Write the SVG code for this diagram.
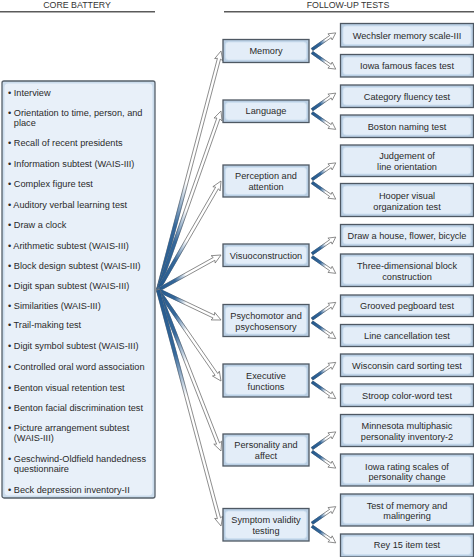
<svg xmlns="http://www.w3.org/2000/svg" xmlns:xlink="http://www.w3.org/1999/xlink" width="474" height="557" viewBox="0 0 474 557">
<style>
text{font-family:"Liberation Sans",Arial,sans-serif;font-size:9.2px;fill:#2a2a2a}
.c{text-anchor:middle}
.hd{font-size:8.8px;fill:#333;text-anchor:middle}
.rule{stroke:#5a5a5a;stroke-width:1.5}
.bo{fill:#b9cee3;stroke:#4e5863;stroke-width:1.3}
.bi{fill:#e3edf8;stroke:#cddff0;stroke-width:0.8}
.lo{fill:#cbdcec;stroke:#56606a;stroke-width:1.3}
.li{fill:#e8f0f9}
.ah{fill:#ffffff;stroke:#6b6b6b;stroke-width:0.7}
</style>
<defs>
<linearGradient id="fade" x1="0" y1="0" x2="1" y2="0">
<stop offset="0" stop-color="#23578a"/>
<stop offset="0.6" stop-color="#2c6094" stop-opacity="0.95"/>
<stop offset="1" stop-color="#2c6094" stop-opacity="0"/>
</linearGradient>
<g id="fork">
<g transform="translate(0,-1.5) rotate(-35)">
<path class="ah" d="M0,-1.3 H22.5 L22,-3.7 L29,0 L22,3.7 L22.5,1.3 H0 Z"/>
<rect x="0" y="-1.6" width="17" height="3.2" fill="url(#fade)"/>
</g>
<g transform="translate(0,1.5) rotate(35)">
<path class="ah" d="M0,-1.3 H22.5 L22,-3.7 L29,0 L22,3.7 L22.5,1.3 H0 Z"/>
<rect x="0" y="-1.6" width="17" height="3.2" fill="url(#fade)"/>
</g>
</g>
</defs>
<rect width="474" height="557" fill="#ffffff"/>

<g id="headers">
<text class="hd" x="77" y="7.5">CORE BATTERY</text>
<line class="rule" x1="0" y1="11.8" x2="155" y2="11.8"/>
<text class="hd" x="348" y="7.5">FOLLOW-UP TESTS</text>
<line class="rule" x1="224" y1="11.8" x2="474" y2="11.8"/>
</g>

<g id="core-battery">
<rect class="lo" x="2" y="81" width="153" height="417" rx="2"/>
<rect class="li" x="4.5" y="83.5" width="148" height="412" rx="4"/>
<text x="8" y="96.3">• Interview</text>
<text x="8" y="116.3">• Orientation to time, person, and</text>
<text x="13.8" y="126.3">place</text>
<text x="8" y="146.3">• Recall of recent presidents</text>
<text x="8" y="166.8">• Information subtest (WAIS-III)</text>
<text x="8" y="187.3">• Complex figure test</text>
<text x="8" y="207.8">• Auditory verbal learning test</text>
<text x="8" y="228.3">• Draw a clock</text>
<text x="8" y="248.8">• Arithmetic subtest (WAIS-III)</text>
<text x="8" y="268.8">• Block design subtest (WAIS-III)</text>
<text x="8" y="288.8">• Digit span subtest (WAIS-III)</text>
<text x="8" y="308.8">• Similarities (WAIS-III)</text>
<text x="8" y="328.3">• Trail-making test</text>
<text x="8" y="348.8">• Digit symbol subtest (WAIS-III)</text>
<text x="8" y="369.8">• Controlled oral word association</text>
<text x="8" y="390.8">• Benton visual retention test</text>
<text x="8" y="411.3">• Benton facial discrimination test</text>
<text x="8" y="431.3">• Picture arrangement subtest</text>
<text x="13.8" y="441.3">(WAIS-III)</text>
<text x="8" y="462.3">• Geschwind-Oldfield handedness</text>
<text x="13.8" y="472.3">questionnaire</text>
<text x="8" y="492.8">• Beck depression inventory-II</text>
</g>

<g id="connectors">
<g transform="translate(158,290) rotate(-75.23)"><path class="ah" d="M0,-1.6 H239.2 L238.2,-4.2 L247.2,0 L238.2,4.2 L239.2,1.6 H0 Z"/><rect x="0" y="-1.8" width="111" height="3.6" fill="url(#fade)"/></g>
<g transform="translate(158,290) rotate(-70.61)"><path class="ah" d="M0,-1.6 H181.8 L180.8,-4.2 L189.8,0 L180.8,4.2 L181.8,1.6 H0 Z"/><rect x="0" y="-1.8" width="85" height="3.6" fill="url(#fade)"/></g>
<g transform="translate(158,290) rotate(-59.97)"><path class="ah" d="M0,-1.6 H117.9 L116.9,-4.2 L125.9,0 L116.9,4.2 L117.9,1.6 H0 Z"/><rect x="0" y="-1.8" width="57" height="3.6" fill="url(#fade)"/></g>
<g transform="translate(158,290) rotate(-29.05)"><path class="ah" d="M0,-1.6 H64.1 L63.1,-4.2 L72.1,0 L63.1,4.2 L64.1,1.6 H0 Z"/><rect x="0" y="-1.8" width="32" height="3.6" fill="url(#fade)"/></g>
<g transform="translate(158,290) rotate(25.46)"><path class="ah" d="M0,-1.6 H61.8 L60.8,-4.2 L69.8,0 L60.8,4.2 L61.8,1.6 H0 Z"/><rect x="0" y="-1.8" width="31" height="3.6" fill="url(#fade)"/></g>
<g transform="translate(158,290) rotate(55.30)"><path class="ah" d="M0,-1.6 H102.7 L101.7,-4.2 L110.7,0 L101.7,4.2 L102.7,1.6 H0 Z"/><rect x="0" y="-1.8" width="50" height="3.6" fill="url(#fade)"/></g>
<g transform="translate(158,290) rotate(68.63)"><path class="ah" d="M0,-1.6 H164.9 L163.9,-4.2 L172.9,0 L163.9,4.2 L164.9,1.6 H0 Z"/><rect x="0" y="-1.8" width="78" height="3.6" fill="url(#fade)"/></g>
<g transform="translate(158,290) rotate(75.05)"><path class="ah" d="M0,-1.6 H236.3 L235.3,-4.2 L244.3,0 L235.3,4.2 L236.3,1.6 H0 Z"/><rect x="0" y="-1.8" width="110" height="3.6" fill="url(#fade)"/></g>
<use xlink:href="#fork" transform="translate(312,51)"/>
<use xlink:href="#fork" transform="translate(312,111.25)"/>
<use xlink:href="#fork" transform="translate(312,181)"/>
<use xlink:href="#fork" transform="translate(312,255.25)"/>
<use xlink:href="#fork" transform="translate(312,320.5)"/>
<use xlink:href="#fork" transform="translate(312,380.5)"/>
<use xlink:href="#fork" transform="translate(312,450)"/>
<use xlink:href="#fork" transform="translate(312,524.75)"/>
</g>

<g id="memory"><rect class="bo" x="223" y="39.5" width="86" height="23"/><rect class="bi" x="225.5" y="42" width="81" height="18" rx="3"/><text class="c" x="266" y="54.3">Memory</text></g>
<g id="language"><rect class="bo" x="223" y="100" width="86" height="22.5"/><rect class="bi" x="225.5" y="102.5" width="81" height="17.5" rx="3"/><text class="c" x="266" y="114.4">Language</text></g>
<g id="perception"><rect class="bo" x="223" y="165" width="86" height="32"/><rect class="bi" x="225.5" y="167.5" width="81" height="27" rx="3"/><text class="c" x="266" y="179.3">Perception and</text><text class="c" x="266" y="189.5">attention</text></g>
<g id="visuoconstruction"><rect class="bo" x="223" y="244" width="86" height="22.5"/><rect class="bi" x="225.5" y="246.5" width="81" height="17.5" rx="3"/><text class="c" x="266" y="258.6">Visuoconstruction</text></g>
<g id="psychomotor"><rect class="bo" x="223" y="304.5" width="86" height="32"/><rect class="bi" x="225.5" y="307" width="81" height="27" rx="3"/><text class="c" x="266" y="319.3">Psychomotor and</text><text class="c" x="266" y="330">psychosensory</text></g>
<g id="executive"><rect class="bo" x="223" y="364" width="86" height="33"/><rect class="bi" x="225.5" y="366.5" width="81" height="28" rx="3"/><text class="c" x="266" y="379.3">Executive</text><text class="c" x="266" y="389.5">functions</text></g>
<g id="personality"><rect class="bo" x="223" y="434" width="86" height="32"/><rect class="bi" x="225.5" y="436.5" width="81" height="27" rx="3"/><text class="c" x="266" y="448.3">Personality and</text><text class="c" x="266" y="459">affect</text></g>
<g id="symptom-validity"><rect class="bo" x="223" y="508.5" width="86" height="32.5"/><rect class="bi" x="225.5" y="511" width="81" height="27.5" rx="3"/><text class="c" x="266" y="523.3">Symptom validity</text><text class="c" x="266" y="534">testing</text></g>

<g id="wechsler"><rect class="bo" x="340.5" y="23.5" width="133" height="23.5"/><rect class="bi" x="343" y="26" width="128" height="18.5" rx="3"/><text class="c" x="407" y="38.5">Wechsler memory scale-III</text></g>
<g id="iowa-faces"><rect class="bo" x="340.5" y="54.5" width="133" height="22.5"/><rect class="bi" x="343" y="57" width="128" height="17.5" rx="3"/><text class="c" x="407" y="69">Iowa famous faces test</text></g>
<g id="category-fluency"><rect class="bo" x="340.5" y="85" width="133" height="22.5"/><rect class="bi" x="343" y="87.5" width="128" height="17.5" rx="3"/><text class="c" x="407" y="99.5">Category fluency test</text></g>
<g id="boston"><rect class="bo" x="340.5" y="115" width="133" height="22.5"/><rect class="bi" x="343" y="117.5" width="128" height="17.5" rx="3"/><text class="c" x="407" y="129.5">Boston naming test</text></g>
<g id="judgement"><rect class="bo" x="340.5" y="145" width="133" height="31.5"/><rect class="bi" x="343" y="147.5" width="128" height="26.5" rx="3"/><text class="c" x="407" y="159.3">Judgement of</text><text class="c" x="407" y="169.8">line orientation</text></g>
<g id="hooper"><rect class="bo" x="340.5" y="183.5" width="133" height="33"/><rect class="bi" x="343" y="186" width="128" height="28" rx="3"/><text class="c" x="407" y="199.3">Hooper visual</text><text class="c" x="407" y="209.8">organization test</text></g>
<g id="draw-house"><rect class="bo" x="340.5" y="224.5" width="133" height="22"/><rect class="bi" x="343" y="227" width="128" height="17" rx="3"/><text class="c" x="407" y="238.8">Draw a house, flower, bicycle</text></g>
<g id="three-dim"><rect class="bo" x="340.5" y="254" width="133" height="32.5"/><rect class="bi" x="343" y="256.5" width="128" height="27.5" rx="3"/><text class="c" x="407" y="269.3">Three-dimensional block</text><text class="c" x="407" y="279.8">construction</text></g>
<g id="grooved"><rect class="bo" x="340.5" y="295" width="133" height="21.5"/><rect class="bi" x="343" y="297.5" width="128" height="16.5" rx="3"/><text class="c" x="407" y="309.3">Grooved pegboard test</text></g>
<g id="line-cancellation"><rect class="bo" x="340.5" y="324.5" width="133" height="22"/><rect class="bi" x="343" y="327" width="128" height="17" rx="3"/><text class="c" x="407" y="339">Line cancellation test</text></g>
<g id="wisconsin"><rect class="bo" x="340.5" y="354" width="133" height="22.5"/><rect class="bi" x="343" y="356.5" width="128" height="17.5" rx="3"/><text class="c" x="407" y="369.3">Wisconsin card sorting test</text></g>
<g id="stroop"><rect class="bo" x="340.5" y="384" width="133" height="22.5"/><rect class="bi" x="343" y="386.5" width="128" height="17.5" rx="3"/><text class="c" x="407" y="399.3">Stroop color-word test</text></g>
<g id="minnesota"><rect class="bo" x="340.5" y="414.5" width="133" height="32"/><rect class="bi" x="343" y="417" width="128" height="27" rx="3"/><text class="c" x="407" y="429.3">Minnesota multiphasic</text><text class="c" x="407" y="439.8">personality inventory-2</text></g>
<g id="iowa-rating"><rect class="bo" x="340.5" y="454" width="133" height="32"/><rect class="bi" x="343" y="456.5" width="128" height="27" rx="3"/><text class="c" x="407" y="470">Iowa rating scales of</text><text class="c" x="407" y="480">personality change</text></g>
<g id="test-memory"><rect class="bo" x="340.5" y="494" width="133" height="32"/><rect class="bi" x="343" y="496.5" width="128" height="27" rx="3"/><text class="c" x="407" y="508.6">Test of memory and</text><text class="c" x="407" y="519">malingering</text></g>
<g id="rey"><rect class="bo" x="340.5" y="534" width="133" height="23"/><rect class="bi" x="343" y="536.5" width="128" height="18" rx="3"/><text class="c" x="407" y="548.3">Rey 15 item test</text></g>
</svg>
